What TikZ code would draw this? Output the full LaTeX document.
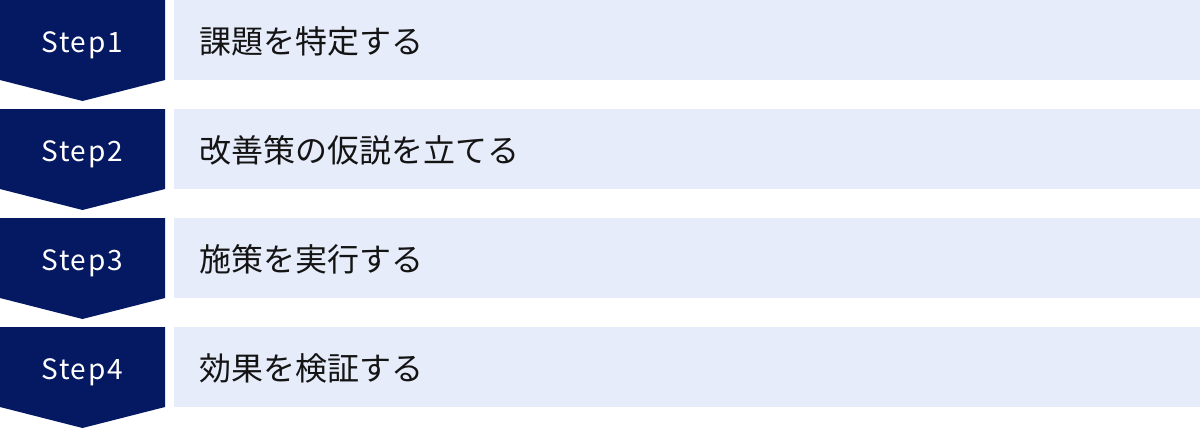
\documentclass[tikz,border=0pt]{standalone}
\usepackage{fontspec}
\newfontfamily\jpfont{Noto Sans CJK JP}
\newfontfamily\stepfont[LetterSpace=6]{Noto Sans CJK JP}
\definecolor{navy}{RGB}{5,24,98}
\definecolor{lightbg}{RGB}{230,236,250}
\definecolor{txt}{RGB}{20,20,20}
\tikzset{
  steptxt/.style={anchor=base, inner sep=0pt, text=white, font=\stepfont\fontsize{28}{28}\selectfont},
  jptxt/.style={anchor=base west, inner sep=0pt, text=txt, font=\jpfont\fontsize{32}{32}\selectfont},
  chevron/.style={fill=navy, draw=none},
  bar/.style={fill=lightbg, draw=none}
}
\begin{document}
\begin{tikzpicture}[x=1pt,y=-1pt]
\useasboundingbox (0,0) rectangle (1200,429);
\foreach \i/\lab/\txt in {0/1/課題を特定する,1/2/改善策の仮説を立てる,2/3/施策を実行する,3/4/効果を検証する}{
  \pgfmathsetmacro{\t}{109*\i}
  \fill[chevron] (0,\t) -- (165,\t) -- (165,\t+80) -- (82.5,\t+101) -- (0,\t+80) -- cycle;
  \fill[bar] (174,\t) rectangle (1200,\t+80);
  \node[steptxt] (s\lab) at (82,\t+52.3) {Step\lab};
  \node[jptxt] (t\lab) at (199,\t+53) {\txt};
}
\end{tikzpicture}
\end{document}
